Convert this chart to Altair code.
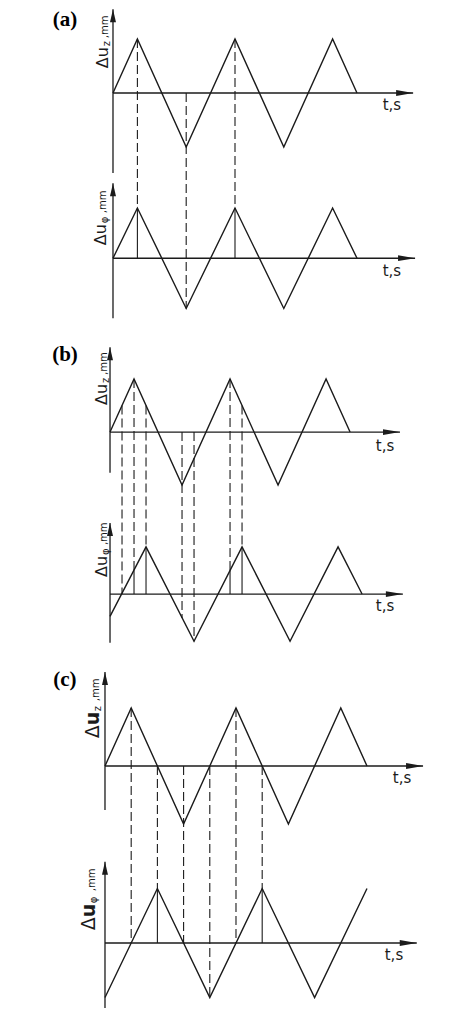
import altair as alt
import pandas as pd

INK = "#1b1b1b"
FONT = "DejaVu Sans"

# Values: t in quarter periods, displacement in amplitudes.
# (a)
A_UZ_T = [0, 1, 3, 5, 7, 9, 10]
A_UZ_V = [0, 1, -1, 1, -1, 1, 0]
A_UPHI_T = [0, 1, 3, 5, 7, 9, 10]
A_UPHI_V = [0, 0.93, -0.93, 0.93, -0.93, 0.93, 0]
A_DASH_T = [1, 3, 5]
A_DASH_UZ = [1, 0, 1]
A_DASH_UPHI = [0.93, -0.93, 0.93]
A_SOLID_T = [1, 5]
A_SOLID_UPHI = [0.93, 0.93]

# (b)
B_UZ_T = [0, 1, 3, 5, 7, 9, 10]
B_UZ_V = [0, 1, -1, 1, -1, 1, 0]
B_UPHI_T = [0, 1.5, 3.5, 5.5, 7.5, 9.5, 10.5]
B_UPHI_V = [-0.42, 0.89, -0.89, 0.89, -0.89, 0.89, 0]
B_DASH_T = [0.5, 1, 1.5, 3, 3.5, 5, 5.5]
B_DASH_UZ = [0.5, 1, 0.5, 0, 0, 1, 0.5]
B_DASH_UPHI = [0, 0.45, 0.89, -0.45, -0.89, 0.45, 0.89]
B_SOLID_T = [1, 1.5, 5, 5.5]
B_SOLID_UPHI = [0.45, 0.89, 0.45, 0.89]

# (c)
C_UZ_T = [0, 1, 3, 5, 7, 9, 10]
C_UZ_V = [0, 1, -1, 1, -1, 1, 0]
C_UPHI_T = [0, 2, 4, 6, 8, 10]
C_UPHI_V = [-0.94, 0.94, -0.94, 0.94, -0.94, 0.94]
C_DASH_T = [1, 2, 3, 4, 5, 6]
C_DASH_UZ = [1, 0, 0, 0, 1, 0]
C_DASH_UPHI = [0, 0.94, 0, -0.94, 0, 0.94]
C_SOLID_T = [2, 6]
C_SOLID_UPHI = [0.94, 0.94]

# layout of each panel (the lower plot is drawn `shift` amplitudes below the upper one)
LAYOUT = {
    "a": dict(height=322, x_dom=[-4.303, 14.467], y_dom=[-4.389, 1.574], shift=3.06,
              axes=[(12.3, -1.48, 1.55), (12.38, -1.11, 1.39)],
              ylab=[(-0.20, 0.46), (-0.29, 0.24)], tlab=[(11.43, -0.22), (11.43, -0.24)],
              tag=(-1.97, 1.35), big=16, bold="normal", dx=(11, 22, 30)),
    "b": dict(height=325, x_dom=[-4.25, 14.83], y_dom=[-4.207, 1.925], shift=3.057,
              axes=[(12.08, -0.77, 1.60), (12.2, -0.92, 1.34)],
              ylab=[(-0.125, 0.51), (-0.125, 0.32)], tlab=[(11.46, -0.26), (11.46, -0.23)],
              tag=(-1.875, 1.45), big=16, bold="normal", dx=(11, 22, 30)),
    "c": dict(height=355, x_dom=[-3.702, 13.779], y_dom=[-4.207, 1.914], shift=3.052,
              axes=[(12.14, -0.76, 1.62), (11.9, -1.12, 1.40)],
              ylab=[(-0.23, 0.48), (-0.38, 0.22)], tlab=[(11.34, -0.21), (11.03, -0.21)],
              tag=(-1.53, 1.48), big=19, bold="bold", dx=(13, 27, 37)),
}

H_ARROW = "M0,0 L-1,-0.17 L-1,0.17 Z"
V_ARROW = "M0,0 L-0.23,1 L0.23,1 Z"


def panel(key, uz, uphi, dash, solid):
    lay = LAYOUT[key]
    low = lay["shift"]
    sx = alt.Scale(domain=lay["x_dom"], nice=False, zero=False)
    sy = alt.Scale(domain=lay["y_dom"], nice=False, zero=False)

    def X(f="t"):
        return alt.X(f"{f}:Q", scale=sx, axis=None)

    def Y(f="y"):
        return alt.Y(f"{f}:Q", scale=sy, axis=None)

    bases = [0, -low]
    top = pd.DataFrame({"t": uz[0], "y": uz[1]})
    bot = pd.DataFrame({"t": uphi[0], "y": [v - low for v in uphi[1]]})

    waves = [
        alt.Chart(d).mark_line(color=INK, strokeWidth=1.4).encode(x=X(), y=Y())
        for d in (top, bot)
    ]

    haxis = pd.DataFrame({"t": [0, 0], "t2": [a[0] for a in lay["axes"]], "y": bases})
    vaxis = pd.DataFrame({
        "t": [0, 0],
        "y": [b + a[1] for b, a in zip(bases, lay["axes"])],
        "y2": [b + a[2] for b, a in zip(bases, lay["axes"])],
    })
    axes = [
        alt.Chart(haxis).mark_rule(color=INK, strokeWidth=1.3).encode(
            x=X(), x2=alt.X2("t2:Q"), y=Y()),
        alt.Chart(vaxis).mark_rule(color=INK, strokeWidth=1.3).encode(
            x=X(), y=Y(), y2=alt.Y2("y2:Q")),
        alt.Chart(haxis).mark_point(shape=H_ARROW, size=1156, filled=True, opacity=1,
                                    color=INK, strokeWidth=0).encode(x=X("t2"), y=Y()),
        alt.Chart(vaxis).mark_point(shape=V_ARROW, size=676, filled=True, opacity=1,
                                    color=INK, strokeWidth=0).encode(x=X(), y=Y("y2")),
    ]

    dashed = pd.DataFrame({"t": dash[0], "y": dash[1], "y2": [v - low for v in dash[2]]})
    solids = pd.DataFrame({"t": solid[0], "y": [v - low for v in solid[1]], "y2": -low})
    guides = [
        alt.Chart(dashed).mark_rule(color=INK, strokeWidth=1.1, strokeDash=[9, 4]).encode(
            x=X(), y=Y(), y2=alt.Y2("y2:Q")),
        alt.Chart(solids).mark_rule(color=INK, strokeWidth=1.1).encode(
            x=X(), y=Y(), y2=alt.Y2("y2:Q")),
    ]

    # y-axis titles, rotated, built from pieces (Δ, u, subscript, ",mm")
    texts = []
    d1, d2, d3 = lay["dx"]
    for (tl, vl), b, sub in zip(lay["ylab"], bases, ["z", "φ"]):
        anchor = pd.DataFrame({"t": [tl], "y": [b + vl]})
        pieces = [
            ("Δ", 0, 0, lay["big"], "normal"),
            ("u", d1, 0, lay["big"], lay["bold"]),
            (sub, d2, 2, 10, "normal"),
            (",mm", d3 + (2 if sub == "φ" else 0), 0, 10, "normal"),
        ]
        for txt, dx, dy, size, weight in pieces:
            texts.append(
                alt.Chart(anchor).mark_text(
                    text=txt, angle=270, align="left", baseline="alphabetic",
                    dx=dx, dy=dy, font=FONT, fontSize=size, fontWeight=weight, color=INK,
                ).encode(x=X(), y=Y())
            )

    tlab = pd.DataFrame({"t": [p[0] for p in lay["tlab"]],
                         "y": [b + p[1] for b, p in zip(bases, lay["tlab"])]})
    texts.append(
        alt.Chart(tlab).mark_text(text="t,s", font=FONT, fontSize=15, color=INK,
                                  align="center", baseline="middle").encode(x=X(), y=Y())
    )
    tag = pd.DataFrame({"t": [lay["tag"][0]], "y": [lay["tag"][1]]})
    texts.append(
        alt.Chart(tag).mark_text(text=f"({key})", font="Liberation Serif", fontSize=21,
                                 fontWeight="bold", color="#000000",
                                 align="center", baseline="middle").encode(x=X(), y=Y())
    )

    return alt.layer(*waves, *axes, *guides, *texts).properties(width=458, height=lay["height"])


pa = panel("a", (A_UZ_T, A_UZ_V), (A_UPHI_T, A_UPHI_V),
           (A_DASH_T, A_DASH_UZ, A_DASH_UPHI), (A_SOLID_T, A_SOLID_UPHI))
pb = panel("b", (B_UZ_T, B_UZ_V), (B_UPHI_T, B_UPHI_V),
           (B_DASH_T, B_DASH_UZ, B_DASH_UPHI), (B_SOLID_T, B_SOLID_UPHI))
pc = panel("c", (C_UZ_T, C_UZ_V), (C_UPHI_T, C_UPHI_V),
           (C_DASH_T, C_DASH_UZ, C_DASH_UPHI), (C_SOLID_T, C_SOLID_UPHI))

chart = (
    alt.vconcat(pa, pb, pc, spacing=0)
    .properties(padding=0, background="white")
    .configure_view(strokeWidth=0)
)

chart.save("out.html", embed_options={"renderer": "svg", "actions": False})
